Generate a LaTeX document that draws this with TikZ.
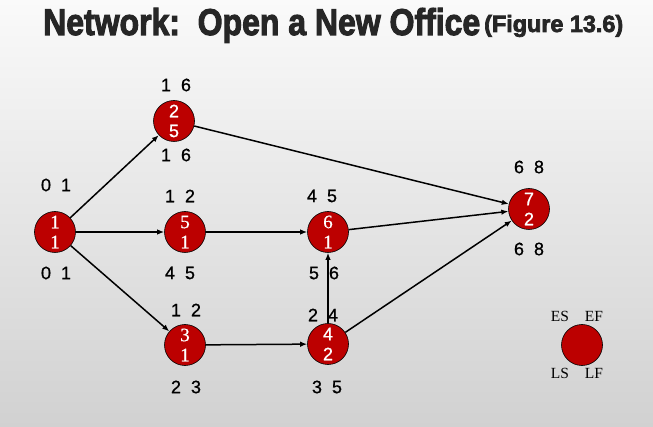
\documentclass[tikz,border=0pt]{standalone}
\usepackage{fontspec}
\usepackage{graphicx}
\setmainfont{Liberation Serif}
\newfontfamily\lsans[FakeBold=0.8]{Liberation Sans}
\newfontfamily\lserif[FakeBold=0.6]{Liberation Serif}
\newfontfamily\lgserif{Liberation Serif}
\newfontfamily\heavy[FakeBold=3]{Liberation Sans Bold}
\usetikzlibrary{arrows.meta}
\definecolor{nodered}{HTML}{BC0000}
\definecolor{titlegray}{HTML}{262626}
\newcommand\pr[2]{#1\hspace{10pt}#2}
\newcommand\actnode[6]{%
  \node[act] (#1) at (#2,#3) {};
  \node[#6,anchor=center] (#1t) at ([yshift=10pt]#1.center) {#4};
  \node[#6,anchor=center] (#1b) at ([yshift=-10pt]#1.center) {#5};}
\begin{document}
\begin{tikzpicture}[x=1pt,y=-1pt,
  act/.style={circle,draw=black,line width=0.6pt,fill=nodered,minimum size=41pt,inner sep=0pt},
  sansnum/.style={font=\lsans\fontsize{18}{20}\selectfont,text=white,inner sep=0pt},
  serifnum/.style={font=\lserif\fontsize{19}{20}\selectfont,text=white,inner sep=0pt},
  lbl/.style={font=\lsans\fontsize{18}{20}\selectfont,text=black,inner sep=0pt},
  leg/.style={font=\lgserif\fontsize{15.5}{16}\selectfont,text=black,inner sep=0pt},
  link/.style={line width=1.5pt,draw=black,-{Latex[length=7pt,width=5.5pt]}}]
\shade[top color=black!2, bottom color=black!18] (0,0) rectangle (653,427);
\useasboundingbox (0,0) rectangle (653,427);

% title
\node[anchor=base west,inner sep=0pt,text=titlegray] (title) at (43,35)
  {\resizebox{437pt}{27pt}{\heavy Network:\ \ Open a New Office}};
\node[anchor=base west,inner sep=0pt,text=titlegray] (fig) at (484,32)
  {\resizebox{139pt}{17pt}{\heavy (Figure 13.6)}};

% activity nodes
\actnode{n1}{55}{232}{1}{1}{serifnum}
\actnode{n2}{174}{121}{2}{5}{sansnum}
\actnode{n5}{185}{232}{5}{1}{serifnum}
\actnode{n3}{185}{345}{3}{1}{serifnum}
\actnode{n6}{328}{232}{6}{1}{serifnum}
\actnode{n4}{328}{344}{4}{2}{sansnum}
\actnode{n7}{529}{209}{7}{2}{sansnum}

% ES/EF and LS/LF labels
\node[lbl] (n1es) at (56,185) {\pr01};
\node[lbl] (n1ls) at (56,273) {\pr01};
\node[lbl] (n2es) at (176,85) {\pr16};
\node[lbl] (n2ls) at (176,155) {\pr16};
\node[lbl] (n5es) at (180,196) {\pr12};
\node[lbl] (n5ls) at (180,273) {\pr45};
\node[lbl] (n3es) at (186,310) {\pr12};
\node[lbl] (n3ls) at (186,387) {\pr23};
\node[lbl] (n6es) at (322,196) {\pr45};
\node[lbl] (n6ls) at (324,273) {\pr56};
\node[lbl] (n4es) at (323,315) {\pr24};
\node[lbl] (n4ls) at (327,387) {\pr35};
\node[lbl] (n7es) at (529,167) {\pr68};
\node[lbl] (n7ls) at (529,249) {\pr68};

% connectors
\draw[link] (n1) -- (n2);
\draw[link] (n1) -- (n5);
\draw[link] (n1) -- (n3);
\draw[link] (n2) -- (n7);
\draw[link] (n5) -- (n6);
\draw[link] (n6) -- (n7);
\draw[link] (n3) -- (n4);
\draw[link] (n4) -- (n6);
\draw[link] (n4) -- (n7);

% legend
\node[act] (key) at (582,345) {};
\node[leg] (kes) at (560,316) {ES};
\node[leg] (kef) at (594,316) {EF};
\node[leg] (kls) at (560,373) {LS};
\node[leg] (klf) at (594,373) {LF};
\end{tikzpicture}
\end{document}
